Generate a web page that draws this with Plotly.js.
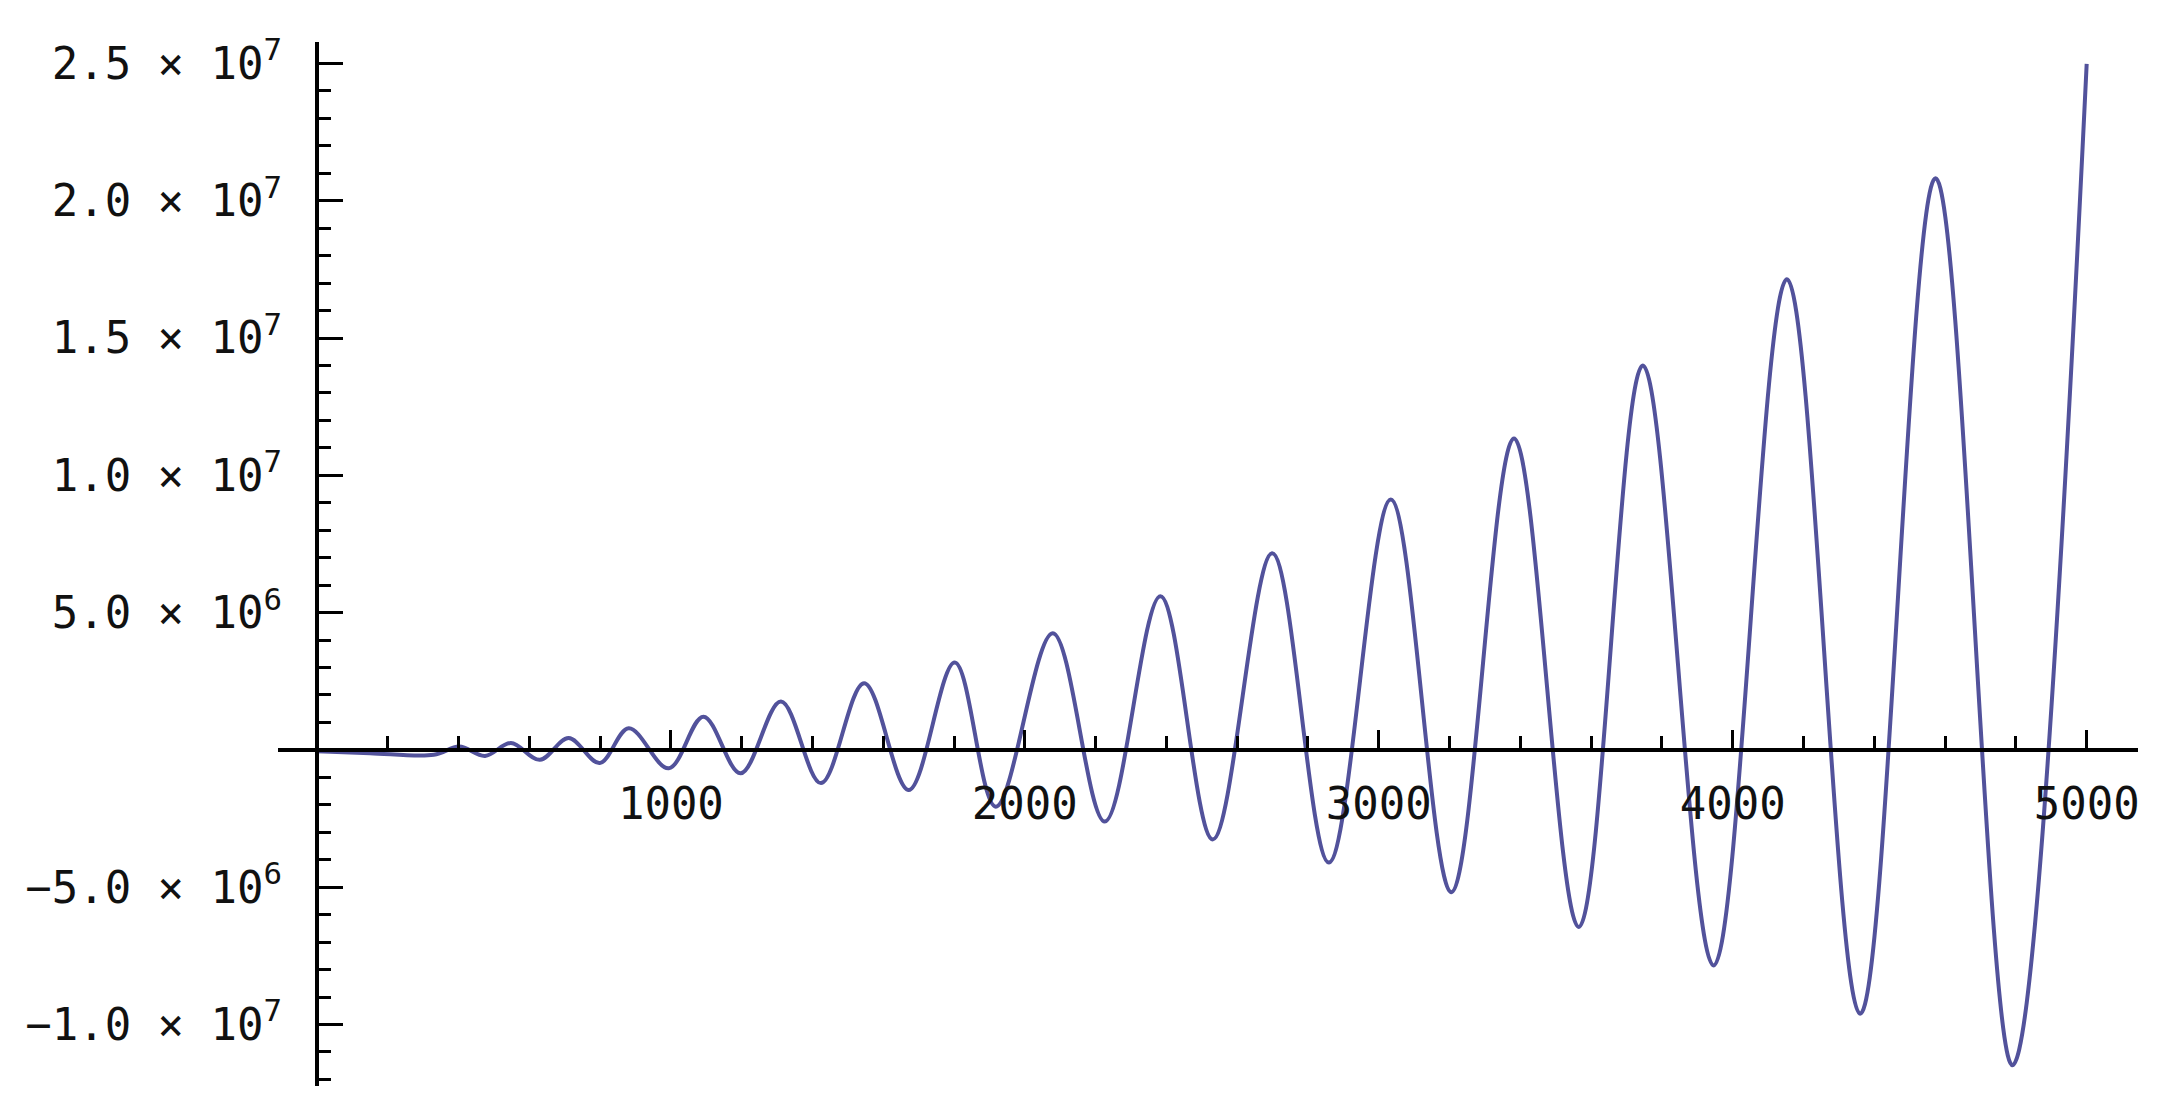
<!DOCTYPE html>
<html>
<head>
<meta charset="utf-8">
<script src="https://cdn.plot.ly/plotly-3.0.1.min.js"></script>
<style>
  html, body { margin: 0; padding: 0; background: #fff; }
  #oscChart { width: 2164px; height: 1112px; }
</style>
</head>
<body>
<div id="oscChart"></div>
<script>
// Points: start, then alternating peaks and troughs (y in units of 10^6)
const curveX = [
  0, 150, 330, 402, 475, 548, 630, 711, 799, 881, 994, 1092, 1197, 1311,
  1424, 1546, 1672, 1802, 1918, 2079, 2226, 2383, 2531, 2699, 2859, 3034,
  3205, 3382, 3565, 3746, 3946, 4153, 4360, 4573, 4790, 5000,
];
const curveY = [
  -0.05, -0.12, -0.18, 0.12, -0.22, 0.25, -0.36, 0.43, -0.48, 0.79, -0.67,
  1.21, -0.85, 1.76, -1.21, 2.43, -1.46, 3.18, -2.07, 4.25, -2.61, 5.6,
  -3.26, 7.16, -4.1, 9.12, -5.18, 11.34, -6.45, 14.0, -7.85, 17.14, -9.61,
  20.82, -11.48, 24.98,
];

// Axis ticks
const xTickVals = [1000, 2000, 3000, 4000, 5000];
const xTickText = ["1000", "2000", "3000", "4000", "5000"];
const yTickVals = [-10, -5, 5, 10, 15, 20, 25];
const yTickText = [
  "\u22121.0 \u00d7 10<sup>7</sup>",
  "\u22125.0 \u00d7 10<sup>6</sup>",
  "5.0 \u00d7 10<sup>6</sup>",
  "1.0 \u00d7 10<sup>7</sup>",
  "1.5 \u00d7 10<sup>7</sup>",
  "2.0 \u00d7 10<sup>7</sup>",
  "2.5 \u00d7 10<sup>7</sup>",
];

const xRange = [-110, 5145];
const yRange = [-12.24, 25.78];

const curveTrace = {
  x: curveX,
  y: curveY,
  type: "scatter",
  mode: "lines",
  line: { color: "rgb(82,82,155)", width: 4, shape: "spline", smoothing: 1 },
  hoverinfo: "skip",
};

const tickFont = { family: "DejaVu Sans Mono", size: 44, color: "#111" };

// Axes cross at the origin, like the Mathematica plot
const layout = {
  width: 2164,
  height: 1112,
  margin: { l: 278, r: 26, t: 42, b: 26 },
  paper_bgcolor: "#fff",
  plot_bgcolor: "#fff",
  showlegend: false,
  xaxis: {
    range: xRange,
    anchor: "free",
    position: (0 - yRange[0]) / (yRange[1] - yRange[0]),
    showgrid: false,
    zeroline: false,
    showline: true,
    linecolor: "#000",
    linewidth: 4,
    ticks: "inside",
    ticklen: 18,
    tickwidth: 3,
    tickcolor: "#000",
    tickmode: "array",
    tickvals: xTickVals,
    ticktext: xTickText,
    ticklabelstandoff: 14,
    tickfont: tickFont,
    minor: { ticks: "inside", tick0: 0, dtick: 200, ticklen: 12, tickwidth: 3, tickcolor: "#000" },
  },
  yaxis: {
    range: yRange,
    anchor: "free",
    position: (0 - xRange[0]) / (xRange[1] - xRange[0]),
    showgrid: false,
    zeroline: false,
    showline: true,
    linecolor: "#000",
    linewidth: 4,
    ticks: "inside",
    ticklen: 24,
    tickwidth: 3,
    tickcolor: "#000",
    tickmode: "array",
    tickvals: yTickVals,
    ticktext: yTickText,
    ticklabelstandoff: 24,
    tickfont: tickFont,
    minor: { ticks: "inside", tick0: 0, dtick: 1, ticklen: 12, tickwidth: 3, tickcolor: "#000" },
  },
};

Plotly.newPlot("oscChart", [curveTrace], layout, { displayModeBar: false, staticPlot: true });
</script>
</body>
</html>
